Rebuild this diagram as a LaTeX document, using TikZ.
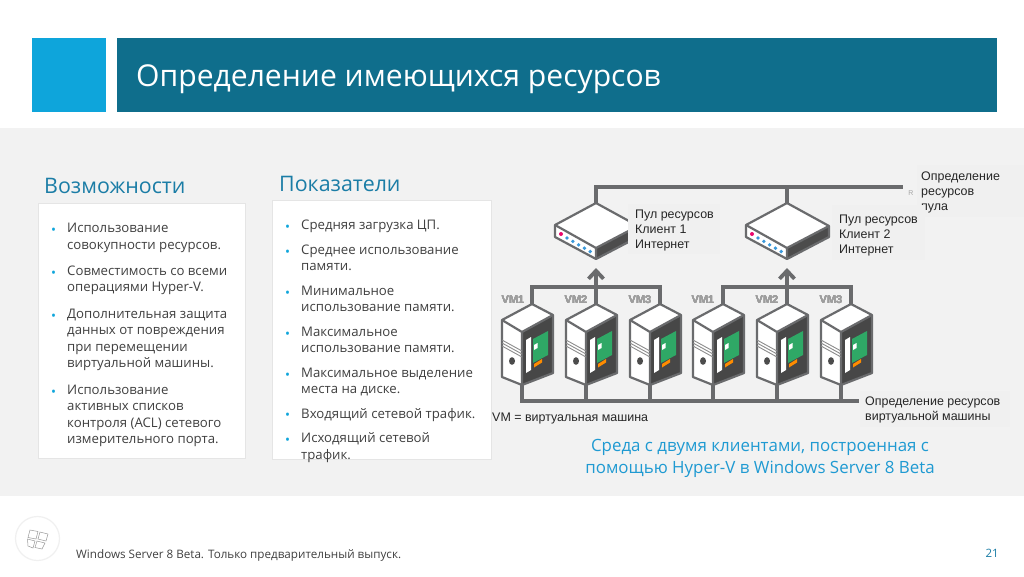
\documentclass[tikz,border=0pt]{standalone}
\usepackage{fontspec}
\setmainfont{Open Sans}
\newfontfamily\arialf{Liberation Sans}
\usetikzlibrary{arrows.meta}
\definecolor{bandc}{HTML}{F2F2F2}
\definecolor{tealc}{HTML}{0F6E8C}
\definecolor{bluec}{HTML}{0EA5DB}
\definecolor{capc}{HTML}{1F9AD2}
\definecolor{headc}{HTML}{1B7DA6}
\definecolor{linec}{HTML}{6A6B6D}
\definecolor{txtc}{HTML}{404040}
\definecolor{boxc}{HTML}{F0F0F0}
\definecolor{pcbc}{HTML}{2FA866}
\tikzset{
  x=1pt,y=-1pt,
  card/.style={draw=black!10,line width=.6pt,fill=white},
  bodytxt/.style={anchor=north west,inner sep=0pt,font=\fontsize{13.2}{16.45}\selectfont,text=txtc,align=left},
  dot/.style={anchor=north west,inner sep=0pt,font=\fontsize{13.2}{16.4}\selectfont,text=bluec},
  heading/.style={anchor=west,inner sep=0pt,font=\fontsize{21.4}{24}\selectfont,text=headc},
  lbl/.style={anchor=north west,inner sep=0pt,font=\arialf\fontsize{12.45}{15.2}\selectfont,text=black!85,align=left},
  lblbox/.style={fill=boxc,draw=none},
  vmlbl/.style={font=\arialf\bfseries\fontsize{11}{11}\selectfont,text=black!38,inner sep=0pt},
  netline/.style={draw=linec,line width=3.8pt},
}
\newcommand{\serverat}[2]{%
 \begin{scope}[shift={(#1,#2)}]
  \fill[white] (0,0)--(-30,16)--(-30,73)--(-10,81)--(-10,28)--(21,11)--cycle;
  \fill[black!72] (-10,28)--(21,11)--(21,69)--(-10,81)--cycle;
  \draw[linec,line width=2.2pt,line join=round] (0,0)--(-30,16)--(-30,73)--(-10,81)--(21,69)--(21,11)--cycle;
  \draw[linec,line width=2.2pt] (-30,16)--(-10,28)--(21,11) (-10,28)--(-10,81);
  \fill[white] (-6,36)--(-1,33)--(-1,66)--(-6,69)--cycle;
  \fill[pcbc] (1,35)--(16,27)--(16,51)--(1,59)--cycle;
  \fill[white] (2,41)--(5.5,39)--(5.5,44)--(2,46)--cycle;
  \fill[orange!90!yellow] (2,60)--(10,55)--(10,58.5)--(2,63.5)--cycle;
  \draw[black!45,line width=.9pt] (-30,36)--(-10,47) (-30,39)--(-10,50) (-30,42)--(-10,53);
  \fill[black!70] (-20,57) circle (3 and 3.8);
 \end{scope}}
\newcommand{\routerat}[2]{%
 \begin{scope}[shift={(#1,#2)}]
  \fill[white] (0,0)--(-41,22)--(-41,34)--(0,56)--(42,23)--cycle;
  \fill[black!70] (0,45)--(42,23)--(42,34)--(0,56)--cycle;
  \draw[linec,line width=2.2pt,line join=round] (0,0)--(-41,22)--(-41,34)--(0,56)--(42,34)--(42,23)--cycle;
  \draw[linec,line width=2.2pt] (-41,22)--(0,45)--(42,23) (0,45)--(0,56);
  \fill[magenta!70!red] (-35,31) circle (2);
  \foreach \k in {0,...,4} \fill[cyan!70!blue!80] (-29+5.8*\k,35+3.4*\k) circle (1.9);
 \end{scope}}
\begin{document}
\begin{tikzpicture}
\useasboundingbox (0,0) rectangle (1024,576);
\fill[white] (0,0) rectangle (1024,576);
\fill[bandc] (0,128) rectangle (1024,496);
\fill[bluec] (32,38) rectangle (106,111.5);
\fill[tealc] (117,38) rectangle (996.5,111.5);
\node[anchor=west,inner sep=0pt,text=white,font=\fontsize{30.1}{32}\selectfont] (title) at (136,79.5) {Определение имеющихся ресурсов};
\node[heading] (h1) at (44,185.5) {Возможности};
\node[heading] (h2) at (279,183.5) {Показатели};
\fill[card] (38,203.5) rectangle (245,458.5);
\fill[card] (272,200.5) rectangle (491,459);
\foreach \y/\t in {
 223/{Использование\\совокупности ресурсов.},
 265.5/{Совместимость со всеми\\операциями Hyper-V.},
 308.5/{Дополнительная защита\\данных от повреждения\\при перемещении\\виртуальной машины.},
 384.5/{Использование\\активных списков\\контроля (ACL) сетевого\\измерительного порта.}}{
  \node[dot] at (51,\y+5) {•};
  \node[bodytxt] at (67,\y) {\t};
}
\foreach \y/\t in {
 219.5/{Средняя загрузка ЦП.},
 244.5/{Среднее использование\\памяти.},
 285.5/{Минимальное\\использование памяти.},
 326.5/{Максимальное\\использование памяти.},
 367.5/{Максимальное выделение\\места на диске.},
 408/{Входящий сетевой трафик.},
 432.5/{Исходящий сетевой\\трафик.}}{
  \node[dot] at (285,\y+5) {•};
  \node[bodytxt] at (301,\y) {\t};
}
% nets
\draw[netline] (596,203)--(596,187)--(903,187);
\draw[netline] (787,187)--(787,203);
\draw[netline] (532,304)--(532,287)--(660,287)--(660,304);
\draw[netline] (596,287)--(596,304);
\draw[netline] (723,304)--(723,287)--(851,287)--(851,304);
\draw[netline] (787,287)--(787,304);
\draw[netline,-{Straight Barb[length=8pt,width=15pt]}] (596,287)--(596,268);
\draw[netline,-{Straight Barb[length=8pt,width=15pt]}] (787,287)--(787,268);
\draw[netline] (522,385)--(522,401)--(859,401);
\foreach \x in {586,650,713,777,841} \draw[netline] (\x,385)--(\x,401);
\routerat{596}{203}
\routerat{787}{203}
\foreach \x in {532,596,660,723,787,851} \serverat{\x}{304}
\foreach \x/\n in {513/1,576/2,640/3,703/1,767/2,831/3} \node[vmlbl] at (\x,300) {VM\n};
% label boxes
\fill[lblbox] (917,165) rectangle (1024,217);
\node[anchor=center,inner sep=0pt,font=\arialf\fontsize{7}{7}\selectfont,text=black!35] at (911,193) {R};
\node[lbl] (l3) at (921,171.5) {Определение\\ресурсов\\пула};
\fill[lblbox] (628,204) rectangle (720,254);
\fill[lblbox] (832,204.5) rectangle (925,260);
\fill[lblbox] (860,391) rectangle (1010,427);
\node[lbl] (l1) at (635,209.5) {Пул ресурсов\\Клиент 1\\Интернет};
\node[lbl] (l2) at (839,214.5) {Пул ресурсов\\Клиент 2\\Интернет};
\node[lbl] (l4) at (865,396.5) {Определение ресурсов\\виртуальной машины};
\node[lbl] (l5) at (492,412.5) {VM = виртуальная машина};
\node[inner sep=0pt,align=center,text=capc,font=\fontsize{16.9}{22.2}\selectfont] (cap) at (760,458.5) {Среда с двумя клиентами, построенная с\\помощью Hyper-V в Windows Server 8 Beta};
% footer
\draw[black!6,line width=1.2pt,fill=white] (37.5,538.5) circle (22);
\begin{scope}[draw=black!40,line width=.5pt]
 \draw (30,530)--(38,531.5)--(36,539)--(28,537.5)--cycle;
 \draw (40,532)--(48,534)--(46,541)--(38,539)--cycle;
 \draw (27.5,539)--(35,541)--(33,548)--(28,546)--cycle;
 \draw (37,541)--(45,543)--(42,549)--(35,547.5)--cycle;
\end{scope}
\node[anchor=west,inner sep=0pt,text=txtc,font=\fontsize{11.66}{14}\selectfont] (foot) at (76,555.5) {Windows Server 8 Beta. Только предварительный выпуск.};
\node[anchor=east,inner sep=0pt,text=headc,font=\fontsize{11.5}{14}\selectfont] (pg) at (999,553) {21};
\end{tikzpicture}
\end{document}
